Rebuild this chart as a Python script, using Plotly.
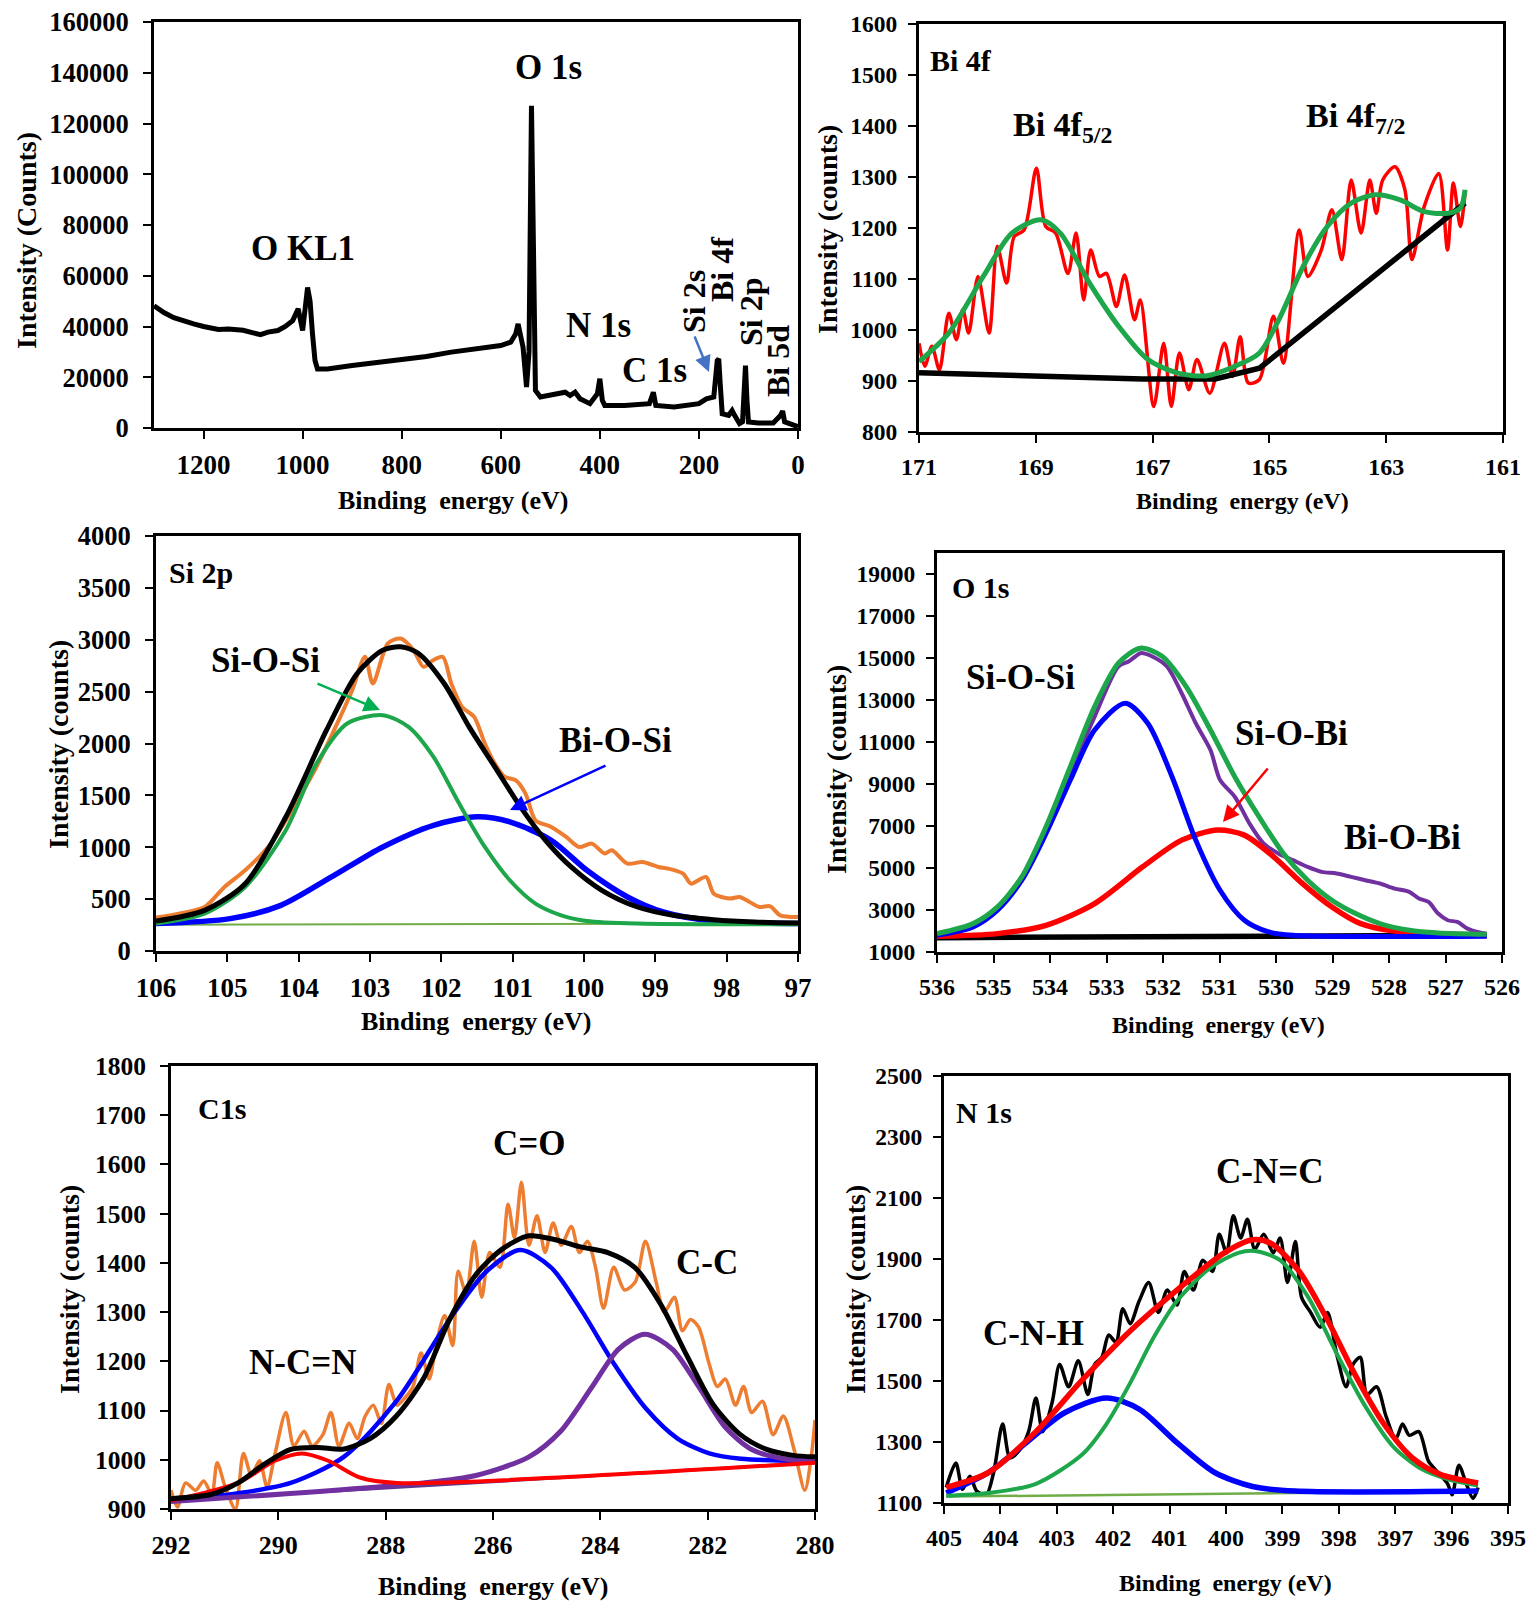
import plotly.graph_objects as go

W, H = 1539, 1612
FONT = "Liberation Serif"

# ---------------- Survey ----------------
survey_be = [1300,1280,1260,1240,1220,1200,1170,1150,1120,1100,1085,1070,1050,1035,1020,1009,1000,990,985,980,975,970,950,900,850,800,750,700,650,600,580,570,565,560,555,548,543,538,533,530,520,500,470,460,450,440,420,405,400,395,390,350,300,292,287,250,200,185,170,163,160,157,153,140,133,128,118,112,108,106,103,100,80,50,35,31,27,15,5,0]
survey_int = [48200,45500,43500,42000,41000,40000,38800,39000,38500,37500,36800,37800,38400,40000,42300,47000,38400,55400,50000,37000,26600,23300,23300,24600,25800,27200,28200,29900,31200,32500,33800,37000,41000,37000,31800,16100,30000,127000,60000,14800,12200,12800,14100,12800,14100,11500,9600,13500,19400,10900,8900,8900,9600,14100,8900,8300,9600,11500,12200,26600,27200,17400,5600,5000,6900,5000,1700,2400,22000,24600,10900,2400,2000,2000,5000,6700,2400,1400,650,500]

# ---------------- Bi 4f ----------------
bi_be = [171.0,170.9,170.78,170.65,170.49,170.36,170.25,170.15,169.99,169.8,169.66,169.5,169.37,169.2,168.99,168.83,168.66,168.45,168.31,168.18,168.06,167.91,167.79,167.62,167.48,167.31,167.21,166.98,166.81,166.68,166.54,166.38,166.24,166.02,165.77,165.63,165.5,165.36,165.17,164.93,164.76,164.49,164.34,164.11,163.93,163.76,163.6,163.43,163.28,163.17,163.06,162.85,162.68,162.56,162.35,162.1,161.95,161.85,161.73,161.65]
bi_raw = [974,929,968,922,1033,981,1040,994,1105,994,1164,1092,1183,1196,1317,1203,1190,1111,1190,1059,1157,1105,1111,1046,1108,1020,1059,850,974,850,955,883,942,876,974,909,987,896,903,1027,935,1196,1105,1157,1236,1138,1294,1190,1294,1229,1294,1320,1275,1138,1242,1307,1157,1288,1203,1268]
bi_fit_be = [171.0,170.49,169.9,169.41,168.91,168.58,168.08,167.58,167.08,166.58,166.09,165.59,165.17,164.84,164.42,164.01,163.6,163.18,162.76,162.35,161.94,161.73,161.65]
bi_fit = [938,994,1105,1190,1216,1190,1092,1007,942,916,910,929,955,1020,1125,1203,1249,1265,1255,1232,1229,1239,1275]
bi_bg_be = [171.0,169.24,167.17,165.93,165.17,161.65]
bi_bg = [916,910,904,904,925,1249]

# ---------------- Si 2p ----------------
si_be = [106.0,105.68,105.32,105.04,104.75,104.39,104.04,103.75,103.46,103.25,103.07,102.96,102.75,102.57,102.39,102.25,102.11,101.98,101.86,101.71,101.54,101.39,101.25,101.11,100.96,100.82,100.68,100.46,100.25,100.07,99.89,99.71,99.61,99.39,99.18,98.96,98.82,98.61,98.5,98.29,98.18,97.96,97.82,97.68,97.54,97.39,97.25,97.0]
si_raw = [322,360,424,617,778,1035,1421,1775,2193,2514,2836,2578,2964,3012,2900,2739,2804,2836,2578,2353,2257,2000,1807,1678,1646,1517,1260,1196,1100,1003,1035,939,971,842,858,810,794,746,649,714,553,505,521,473,424,431,344,328]
si_env_be = [106.0,105.32,104.75,104.18,103.61,103.18,102.82,102.57,102.32,101.96,101.61,101.25,100.89,100.54,100.18,99.75,99.25,98.75,98.18,97.61,97.0]
si_env = [289,392,649,1292,2128,2675,2900,2932,2868,2578,2160,1775,1389,1067,810,585,424,344,302,280,270]
si_sios_be = [106.0,105.32,104.75,104.18,103.75,103.32,102.82,102.46,102.11,101.75,101.39,101.04,100.68,100.32,99.96,99.25,97.0]
si_sios = [264,360,617,1164,1807,2193,2273,2160,1871,1421,1003,682,457,344,289,264,257]
si_bios_be = [106.0,104.96,104.25,103.54,102.82,102.11,101.5,101.04,100.46,99.96,99.39,98.89,98.18,97.0]
si_bios = [264,312,440,714,1003,1212,1293,1244,1067,778,521,376,289,264]
si_bg_be = [106.0,97.0]
si_bg = [254,264]

# ---------------- O 1s ----------------
o_be = [536.0,535.36,534.93,534.5,534.07,533.64,533.21,532.79,532.61,532.49,532.4,532.19,531.93,531.67,531.42,531.16,530.99,530.73,530.47,530.22,529.96,529.7,529.44,529.19,528.93,528.67,528.42,528.16,527.9,527.64,527.47,527.3,527.13,526.96,526.79,526.61,526.44,526.27]
o_raw = [1795,2193,2988,4419,6645,9507,12210,14595,14833,15072,15230,15072,14595,13323,11892,10620,9189,8394,7122,6168,5691,5373,5055,4816,4737,4578,4419,4260,4021,3862,3544,3385,2829,2511,2431,2113,1954,1875]
o_env_be = [536.0,535.36,534.93,534.5,534.07,533.64,533.21,532.79,532.4,532.01,531.59,531.16,530.73,530.3,529.87,529.44,529.01,528.59,528.16,527.64,527.13,526.27]
o_env = [1875,2352,3147,4578,6963,9825,12687,14754,15469,15072,13641,11574,9348,7440,5691,4419,3465,2829,2352,2034,1908,1842]
o_sios_be = [536.0,535.36,534.93,534.5,534.07,533.64,533.21,532.67,532.27,531.84,531.42,530.99,530.56,530.13,529.7,526.27]
o_sios = [1795,2193,2988,4419,6645,9189,11574,12846,11892,9348,6327,3942,2511,1954,1795,1747]
o_siobi_be = [536.0,534.93,534.07,533.21,532.36,531.67,531.03,530.56,530.04,529.53,529.01,528.5,527.9,526.27]
o_siobi = [1747,1875,2272,3306,5055,6327,6804,6565,5532,4260,3147,2352,2001,1795]
o_bg_be = [536.0,526.27]
o_bg = [1683,1795]

# ---------------- C 1s ----------------
c_be = [292.0,291.88,291.73,291.54,291.39,291.24,291.14,290.99,290.8,290.65,290.5,290.35,290.21,290.06,289.86,289.71,289.52,289.37,289.17,289.02,288.87,288.68,288.53,288.38,288.23,288.08,287.94,287.79,287.64,287.49,287.34,287.19,287.05,286.9,286.75,286.65,286.5,286.35,286.21,286.06,285.87,285.72,285.6,285.47,285.33,285.18,285.03,284.88,284.73,284.54,284.39,284.24,284.09,283.94,283.75,283.55,283.35,283.16,282.96,282.81,282.62,282.47,282.32,282.17,281.97,281.82,281.67,281.48,281.33,281.18,280.98,280.78,280.59,280.39,280.19,280.07,280.0]
c_raw = [938,904,953,938,957,930,994,945,900,1013,968,998,945,1013,1096,1028,1058,1028,1051,1096,1028,1074,1043,1089,1111,1074,1153,1111,1126,1149,1217,1164,1240,1293,1232,1383,1338,1444,1330,1421,1391,1519,1451,1564,1436,1496,1421,1481,1436,1474,1421,1444,1391,1308,1391,1345,1361,1444,1361,1300,1330,1262,1285,1270,1194,1149,1164,1111,1149,1096,1119,1051,1089,1021,938,1006,1081]
c_env_be = [292.0,291.24,290.75,290.26,289.77,289.27,288.78,288.29,287.8,287.3,286.81,286.32,285.83,285.33,284.84,284.35,283.86,283.36,282.87,282.38,281.89,281.39,280.9,280.41,280.0]
c_env = [921,930,953,991,1021,1025,1022,1043,1089,1164,1285,1376,1428,1455,1447,1432,1421,1391,1315,1210,1111,1051,1021,1009,1006]
c_co_be = [292.0,290.75,289.77,288.78,287.8,286.81,286.12,285.49,284.92,284.33,283.74,283.15,282.56,281.97,281.38,280.0]
c_co = [917,932,953,1006,1119,1285,1383,1426,1391,1300,1194,1104,1043,1013,1002,997]
c_cc_be = [292.0,287.3,286.32,285.33,284.74,284.15,283.66,283.17,282.66,282.17,281.67,281.18,280.59,280.0]
c_cc = [915,953,968,1006,1058,1149,1225,1255,1225,1149,1066,1021,1002,997]
c_ncn_be = [292.0,290.75,290.06,289.56,289.07,288.48,287.79,280.0]
c_ncn = [917,953,998,1013,998,964,953,994]
c_bg_be = [292.0,280.0]
c_bg = [917,994]

# ---------------- N 1s ----------------
n_be = [404.96,404.79,404.67,404.54,404.42,404.25,404.12,403.96,403.83,403.66,403.5,403.37,403.25,403.08,402.95,402.79,402.62,402.45,402.33,402.2,402.08,401.95,401.83,401.7,401.54,401.37,401.2,401.04,400.87,400.74,400.58,400.41,400.24,400.12,399.99,399.87,399.74,399.62,399.49,399.33,399.16,399.04,398.91,398.77,398.66,398.5,398.33,398.2,398.04,397.87,397.75,397.62,397.5,397.33,397.16,396.99,396.87,396.75,396.58,396.41,396.24,396.07,395.99,395.87,395.74,395.62,395.53]
n_raw = [1151,1231,1145,1188,1139,1127,1200,1359,1249,1273,1334,1444,1334,1432,1554,1481,1566,1456,1554,1578,1651,1627,1737,1688,1762,1823,1725,1798,1749,1859,1798,1896,1859,1981,1920,2042,1969,2030,1932,1981,1920,1969,1823,1957,1774,1725,1676,1725,1591,1481,1554,1578,1456,1481,1383,1310,1359,1322,1334,1237,1200,1163,1127,1224,1163,1115,1151]
n_env_be = [404.96,404.21,403.37,402.54,401.7,400.87,400.03,399.53,399.2,398.7,398.2,397.7,397.2,396.7,396.2,395.53]
n_env = [1151,1200,1334,1505,1664,1798,1920,1963,1951,1859,1700,1517,1359,1249,1194,1166]
n_cnc_be = [404.96,404.21,403.37,402.54,402.12,401.7,401.29,400.87,400.28,399.78,399.49,399.04,398.54,398.04,397.54,397.04,396.54,396.03,395.53]
n_cnc = [1124,1133,1163,1261,1359,1493,1640,1762,1871,1920,1926,1896,1774,1591,1420,1286,1212,1176,1157]
n_cnh_be = [404.96,404.21,403.54,402.87,402.12,401.54,400.87,400.2,399.53,398.78,395.53]
n_cnh = [1133,1200,1298,1395,1444,1408,1298,1200,1154,1139,1139]
n_bg_be = [404.96,395.53]
n_bg = [1121,1139]

ORANGE = "#ED7D31"
GREEN = "#1DA64A"
BLUE = "#0000FF"
RED = "#FF0000"
PURPLE = "#7030A0"
LGREEN = "#70AD47"

fig = go.Figure()

def add(x, y, axis, color, width, shape="spline"):
    fig.add_trace(go.Scatter(x=x, y=y, mode="lines", xaxis="x" + axis, yaxis="y" + axis,
                             line=dict(color=color, width=width, shape=shape, smoothing=0.8 if shape == "spline" else None),
                             showlegend=False, hoverinfo="skip"))

# survey
add(survey_be, survey_int, "", "black", 5, "linear")
# Bi 4f
add(bi_be, bi_raw, "2", RED, 3.5)
add(bi_bg_be, bi_bg, "2", "black", 5.5, "linear")
add(bi_fit_be, bi_fit, "2", GREEN, 5)
# Si 2p
add(si_be, si_raw, "3", ORANGE, 4)
add(si_bg_be, si_bg, "3", LGREEN, 2, "linear")
add(si_bios_be, si_bios, "3", BLUE, 5.5)
add(si_sios_be, si_sios, "3", GREEN, 4)
add(si_env_be, si_env, "3", "black", 5)
# O 1s
add(o_be, o_raw, "4", PURPLE, 4)
add(o_bg_be, o_bg, "4", "black", 5.5, "linear")
add(o_siobi_be, o_siobi, "4", RED, 5.5)
add(o_sios_be, o_sios, "4", BLUE, 5)
add(o_env_be, o_env, "4", GREEN, 5)
# C 1s
add(c_be, c_raw, "5", ORANGE, 3.5)
add(c_bg_be, c_bg, "5", "#5B3A8C", 3, "linear")
add(c_co_be, c_co, "5", BLUE, 4.5)
add(c_cc_be, c_cc, "5", PURPLE, 5)
add(c_ncn_be, c_ncn, "5", RED, 4)
add(c_env_be, c_env, "5", "black", 5)
# N 1s
add(n_be, n_raw, "6", "black", 3.5)
add(n_bg_be, n_bg, "6", LGREEN, 2.5, "linear")
add(n_cnh_be, n_cnh, "6", BLUE, 5.5)
add(n_cnc_be, n_cnc, "6", GREEN, 4)
add(n_env_be, n_env, "6", RED, 5.5)

def px(x0, x1):
    return [x0 / W, x1 / W]

def py(top, bottom):
    return [1 - bottom / H, 1 - top / H]

def tf(size):
    return dict(family=FONT, size=size, color="black", weight="bold")

def xax(domain, rng, tickvals, anchor, fs):
    return dict(domain=domain, range=rng, tickvals=tickvals, anchor=anchor,
                showline=True, linecolor="black", linewidth=3, mirror=True,
                ticks="outside", ticklen=8, tickwidth=2, tickcolor="black",
                showgrid=False, zeroline=False, tickfont=tf(fs), ticklabelstandoff=3,
                automargin=False)

def yax(domain, rng, tickvals, anchor, fs, so):
    return dict(domain=domain, range=rng, tickvals=tickvals, anchor=anchor,
                showline=True, linecolor="black", linewidth=3, mirror=True,
                ticks="outside", ticklen=8, tickwidth=2, tickcolor="black",
                showgrid=False, zeroline=False, tickfont=tf(fs), ticklabelstandoff=so,
                tickformat="d", automargin=False)

layout = dict(
    width=W, height=H, margin=dict(l=0, r=0, t=0, b=0, pad=0, autoexpand=False),
    paper_bgcolor="white", plot_bgcolor="white", showlegend=False,
    xaxis=xax(px(154, 798), [1300, 0], [1200, 1000, 800, 600, 400, 200, 0], "y", 27),
    yaxis=yax(py(22, 428), [0, 160000], list(range(0, 160001, 20000)), "x", 26.5, 9),
    xaxis2=xax(px(919, 1503), [171, 161], [171, 169, 167, 165, 163, 161], "y2", 24),
    yaxis2=yax(py(24, 432), [800, 1600], list(range(800, 1601, 100)), "x2", 23.5, 6),
    xaxis3=xax(px(156, 798), [106, 97], list(range(106, 96, -1)), "y3", 27),
    yaxis3=yax(py(536, 951), [0, 4000], list(range(0, 4001, 500)), "x3", 26.5, 9),
    xaxis4=xax(px(937, 1502), [536, 526], list(range(536, 525, -1)), "y4", 24),
    yaxis4=yax(py(553, 952), [1000, 20000], list(range(1000, 19001, 2000)), "x4", 23.5, 6),
    xaxis5=xax(px(171, 815), [292, 280], list(range(292, 279, -2)), "y5", 26),
    yaxis5=yax(py(1066, 1509), [900, 1800], list(range(900, 1801, 100)), "x5", 25.5, 9),
    xaxis6=xax(px(944, 1508), [405, 395], list(range(405, 394, -1)), "y6", 24),
    yaxis6=yax(py(1076, 1503), [1100, 2500], list(range(1100, 2501, 200)), "x6", 23.5, 6),
)
fig.update_layout(**layout)

anns = []

def text(x, y, s, size=28, angle=0):
    anns.append(dict(x=x / W, y=1 - y / H, xref="paper", yref="paper", text=s, showarrow=False,
                     textangle=angle, xanchor="center", yanchor="middle",
                     font=dict(family=FONT, size=size, color="black", weight="bold")))

def arrow(tx, ty, hx, hy, color):
    anns.append(dict(x=hx / W, y=1 - hy / H, xref="paper", yref="paper", text="", showarrow=True,
                     ax=tx - hx, ay=ty - hy, axref="pixel", ayref="pixel",
                     arrowhead=2, arrowsize=1.3, arrowwidth=2.5, arrowcolor=color))

# axis titles
XT = "Binding  energy (eV)"
for (x, y) in [(453, 501), (476, 1021), (493, 1586)]:
    text(x, y, XT, 26)
for (x, y) in [(1242, 501), (1218, 1025), (1225, 1583)]:
    text(x, y, XT, 24)
text(26, 241, "Intensity (Counts)", 28, -90)
for (x, y) in [(828, 230), (59, 745), (836, 770), (69, 1290), (855, 1290)]:
    text(x, y, "Intensity (counts)", 28, -90)

# survey labels
text(548, 68, "O 1s", 35)
text(303, 248, "O KL1", 35)
text(598, 326, "N 1s", 35)
text(654, 370, "C 1s", 35)
text(694, 302, "Si 2s", 32, -90)
text(722, 270, "Bi 4f", 32, -90)
text(751, 312, "Si 2p", 32, -90)
text(778, 361, "Bi 5d", 32, -90)
arrow(694, 335, 709, 372, "#4472C4")

# Bi 4f
text(961, 60, "Bi 4f", 30)
text(1062, 127, "Bi 4f<sub>5/2</sub>", 34)
text(1355, 118, "Bi 4f<sub>7/2</sub>", 34)

# Si 2p
text(201, 572, "Si 2p", 30)
text(265, 660, "Si-O-Si", 35)
text(615, 740, "Bi-O-Si", 35)
arrow(316, 683, 380, 710, "#00B050")
arrow(607, 765, 510, 810, BLUE)

# O 1s
text(981, 587, "O 1s", 30)
text(1020, 677, "Si-O-Si", 35)
text(1291, 733, "Si-O-Bi", 35)
text(1402, 837, "Bi-O-Bi", 35)
arrow(1269, 767, 1223, 822, RED)

# C 1s
text(222, 1108, "C1s", 30)
text(529, 1143, "C=O", 35)
text(707, 1262, "C-C", 35)
text(302, 1362, "N-C=N", 35)

# N 1s
text(984, 1112, "N 1s", 30)
text(1269, 1171, "C-N=C", 35)
text(1033, 1333, "C-N-H", 35)

fig.update_layout(annotations=anns)
fig.write_html("out.html")
